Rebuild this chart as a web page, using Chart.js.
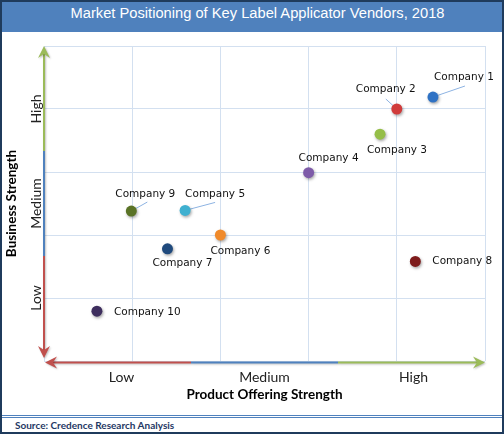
<!DOCTYPE html>
<html>
<head>
<meta charset="utf-8">
<script src="https://cdn.jsdelivr.net/npm/chart.js@4.4.1/dist/chart.umd.min.js"></script>
<style>
  html, body { margin: 0; padding: 0; background: #fff; }
  #frame  { position: relative; width: 504px; height: 434px; overflow: hidden; background: #fff; }
  #title  { position: absolute; left: 0; top: 0; width: 504px; height: 32px; box-sizing: border-box; padding-left: 11px;
            background: #4F81BD; color: #fff; font: 14.7px "Liberation Sans", Arial, sans-serif;
            text-align: center; line-height: 26px; }
  #chart  { position: absolute; left: 0; top: 32px; }
  #sep    { position: absolute; left: 0; top: 415px; width: 504px; height: 1px;
            border-top: 1px solid #4F81BD; border-bottom: 1px solid #4F81BD; }
  #source { position: absolute; left: 15px; top: 419px; font: bold 10px Lato, sans-serif; color: #1F3864; }
  #border { position: absolute; left: 0; top: 0; width: 504px; height: 434px; box-sizing: border-box;
            border: 2px solid #1F3B5C; pointer-events: none; }
</style>
</head>
<body>
<div id="frame">
  <div id="title">Market Positioning of Key Label Applicator Vendors, 2018</div>
  <canvas id="chart" width="504" height="383"></canvas>
  <div id="sep"></div>
  <div id="source">Source: Credence Research Analysis</div>
  <div id="border"></div>
</div>
<script>
// ---- data ----
const companies = ["Company 1", "Company 2", "Company 3", "Company 4", "Company 5",
                   "Company 6", "Company 7", "Company 8", "Company 9", "Company 10"];
const productStrength  = [4.41, 4.00, 3.81, 3.00, 1.60, 2.00, 1.40, 4.21, 0.99, 0.60];
const businessStrength = [4.19, 4.00, 3.60, 2.99, 2.39, 2.00, 1.78, 1.58, 2.38, 0.79];

const xTickLabels = ["Low", "Medium", "High"];
const xTickValues = [0.88, 2.5, 4.19];
const yTickLabels = ["Low", "Medium", "High"];
const yTickValues = [1.0, 2.5, 4.0];

// ---- styles ----
const pointColors = ["#2F72C4", "#D03B3B", "#95BE48", "#7E5BA8", "#3FB0D0",
                     "#F08A2A", "#1F4A7D", "#7E1C1C", "#5A7326", "#3E2E5E"];
const GRID   = "#D3E0F0";
const LEADER = "#8DB3E2";
const RED = "#C0504D", BLUE = "#4F81BD", GREEN = "#9BBB59";

// label placement: [dx of text start, dy of text middle] from the point
const labelOffsets = [[1, -20], [-41, -20], [-13, 16], [-10, -14], [0, -16],
                      [-10, 16], [-15, 14], [17, 0], [-16, -17], [17, 1]];
// leader line end, relative to the point
const leaderLines = { 0: [32, -11], 1: [-11, -10], 4: [30, -8], 8: [16, -9] };

function arrowHead(ctx, x, y, angle, color) {
  ctx.save();
  ctx.translate(x, y);
  ctx.rotate(angle);
  ctx.fillStyle = color;
  ctx.beginPath();
  ctx.moveTo(0, 0);
  ctx.lineTo(-12, -6);
  ctx.lineTo(-8, 0);
  ctx.lineTo(-12, 6);
  ctx.closePath();
  ctx.fill();
  ctx.restore();
}

function segment(ctx, x1, y1, x2, y2, color) {
  ctx.strokeStyle = color;
  ctx.lineWidth = 2;
  ctx.beginPath();
  ctx.moveTo(x1, y1);
  ctx.lineTo(x2, y2);
  ctx.stroke();
}

const axisArrows = {
  id: "axisArrows",
  beforeDatasetsDraw(chart) {
    const { ctx, chartArea: a, scales } = chart;
    const xs = scales.x, ys = scales.y;
    ctx.save();
    ctx.shadowColor = "rgba(0,0,0,0.25)";
    ctx.shadowBlur = 2;
    ctx.shadowOffsetX = 1;
    ctx.shadowOffsetY = 1;
    // vertical: green (high) / blue / red (low)
    const vx = a.left, topTip = a.top, botTip = a.bottom - 3;
    const y1 = ys.getPixelForValue(10 / 3), y2 = ys.getPixelForValue(5 / 3);
    segment(ctx, vx, topTip + 8, vx, y1, GREEN);
    segment(ctx, vx, y1, vx, y2, BLUE);
    segment(ctx, vx, y2, vx, botTip - 8, RED);
    arrowHead(ctx, vx, topTip, -Math.PI / 2, GREEN);
    arrowHead(ctx, vx, botTip, Math.PI / 2, RED);
    // horizontal: red (low) / blue / green (high)
    const hy = a.bottom + 1.5, leftTip = a.left + 1, rightTip = a.right;
    const x1 = xs.getPixelForValue(5 / 3), x2 = xs.getPixelForValue(10 / 3);
    segment(ctx, leftTip + 8, hy, x1, hy, RED);
    segment(ctx, x1, hy, x2, hy, BLUE);
    segment(ctx, x2, hy, rightTip - 8, hy, GREEN);
    arrowHead(ctx, leftTip, hy, Math.PI, RED);
    arrowHead(ctx, rightTip, hy, 0, GREEN);
    ctx.restore();

    // leader lines under the dots
    const meta = chart.getDatasetMeta(0);
    ctx.save();
    ctx.strokeStyle = LEADER;
    ctx.lineWidth = 1;
    Object.keys(leaderLines).forEach((k) => {
      const p = meta.data[k];
      const [dx, dy] = leaderLines[k];
      ctx.beginPath();
      ctx.moveTo(p.x, p.y);
      ctx.lineTo(p.x + dx, p.y + dy);
      ctx.stroke();
    });
    ctx.restore();
  },
  beforeDatasetDraw(chart) {
    const ctx = chart.ctx;
    ctx.save();
    ctx.shadowColor = "rgba(0,0,0,0.35)";
    ctx.shadowBlur = 3;
    ctx.shadowOffsetX = 1;
    ctx.shadowOffsetY = 1.5;
  },
  afterDatasetDraw(chart) {
    chart.ctx.restore();
  },
  afterDatasetsDraw(chart) {
    const { ctx } = chart;
    const meta = chart.getDatasetMeta(0);
    ctx.save();
    ctx.font = '10.5px "DejaVu Sans", sans-serif';
    ctx.fillStyle = "#111";
    ctx.textAlign = "left";
    ctx.textBaseline = "middle";
    meta.data.forEach((p, i) => {
      const [dx, dy] = labelOffsets[i];
      ctx.fillText(companies[i], p.x + dx, p.y + dy);
    });
    ctx.restore();
  },
};

const catFont = { family: "Lato", size: 14 };
const titleFont = { family: "Lato", size: 13.5, weight: "bold" };

new Chart(document.getElementById("chart"), {
  type: "scatter",
  data: {
    datasets: [{
      data: productStrength.map((x, i) => ({ x, y: businessStrength[i] })),
      pointBackgroundColor: pointColors,
      pointBorderColor: pointColors,
      pointBorderWidth: 0,
      pointRadius: 5.5,
    }],
  },
  options: {
    responsive: false,
    animation: false,
    events: [],
    layout: { padding: { top: 14, right: 19, left: 0, bottom: 0 } },
    plugins: { legend: { display: false }, tooltip: { enabled: false } },
    scales: {
      x: {
        type: "linear", position: "bottom", min: 0, max: 5, weight: 0,
        ticks: { display: false, stepSize: 1 },
        grid: { color: GRID, drawTicks: false },
        border: { display: false },
        afterFit: (s) => { s.height = 0; },
      },
      x2: {
        type: "linear", position: "bottom", min: 0, max: 5, weight: 1,
        grid: { display: false },
        border: { display: false },
        afterBuildTicks: (s) => { s.ticks = xTickValues.map((v) => ({ value: v })); },
        ticks: {
          autoSkip: false, maxRotation: 0, padding: 0, color: "#222", font: catFont,
          callback: (v, i) => xTickLabels[i],
        },
        title: { display: true, text: "Product Offering Strength", color: "#000",
                 font: titleFont, padding: { top: 0, bottom: 12 } },
        afterFit: (s) => { s.height = 54; },
      },
      y: {
        type: "linear", position: "left", min: 0, max: 5, weight: 0,
        ticks: { display: false, stepSize: 1 },
        grid: { color: GRID, drawTicks: false },
        border: { display: false },
        afterFit: (s) => { s.width = 0; },
      },
      y2: {
        type: "linear", position: "left", min: 0, max: 5, weight: 1,
        grid: { display: false },
        border: { display: false },
        afterBuildTicks: (s) => { s.ticks = yTickValues.map((v) => ({ value: v })); },
        ticks: {
          autoSkip: false, minRotation: 90, maxRotation: 90, crossAlign: "center",
          padding: -25.5, color: "#222", font: catFont,
          callback: (v, i) => yTickLabels[i],
        },
        title: { display: true, text: "Business Strength", color: "#000",
                 font: titleFont, padding: { top: 4, bottom: 0 } },
        afterFit: (s) => { s.width = 44; },
      },
    },
  },
  plugins: [axisArrows],
});
</script>
</body>
</html>
